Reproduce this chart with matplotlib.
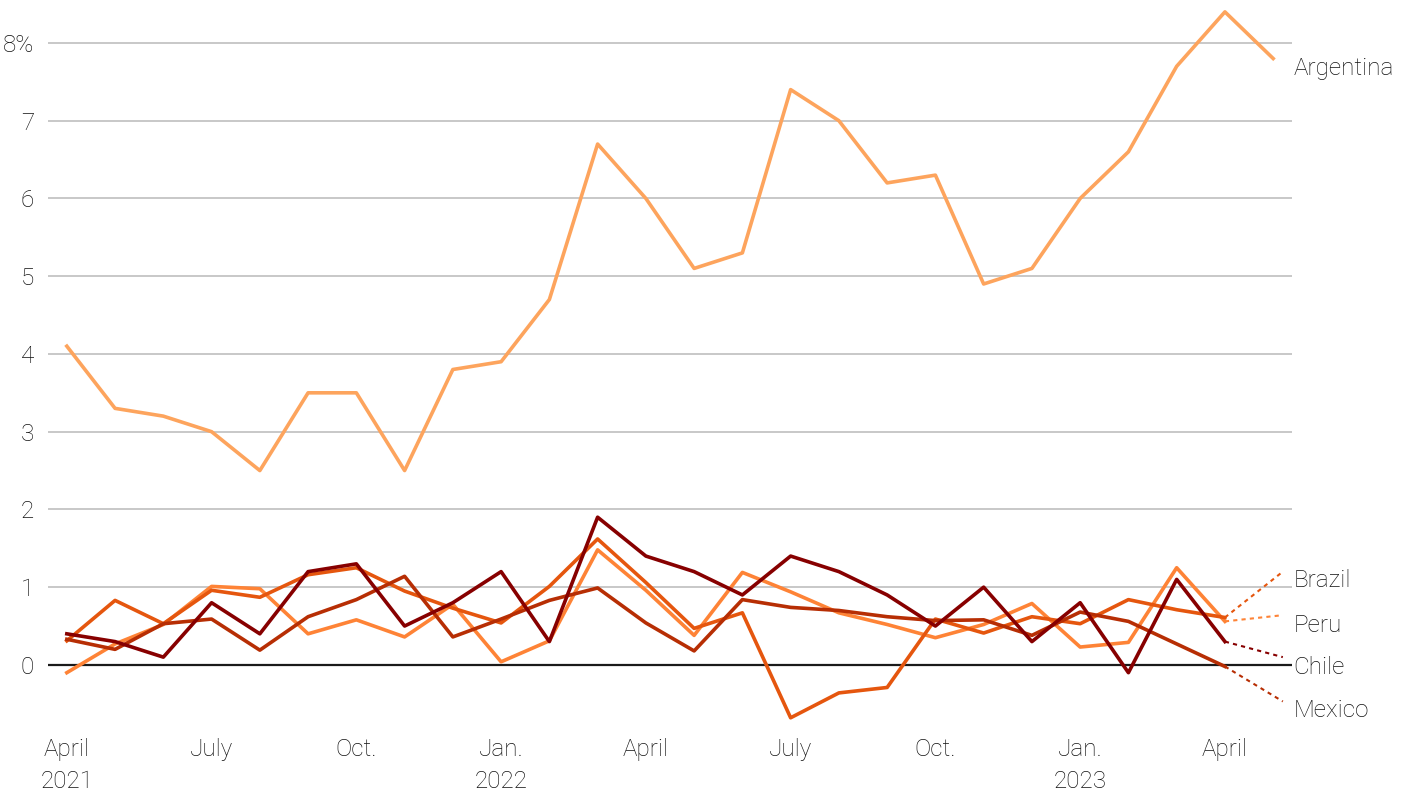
import matplotlib
matplotlib.use("Agg")
import matplotlib.pyplot as plt
import numpy as np

months = ["Apr 2021", "May 2021", "Jun 2021", "Jul 2021", "Aug 2021", "Sep 2021", "Oct 2021",
          "Nov 2021", "Dec 2021", "Jan 2022", "Feb 2022", "Mar 2022", "Apr 2022", "May 2022",
          "Jun 2022", "Jul 2022", "Aug 2022", "Sep 2022", "Oct 2022", "Nov 2022", "Dec 2022",
          "Jan 2023", "Feb 2023", "Mar 2023", "Apr 2023", "May 2023"]

argentina = [4.1, 3.3, 3.2, 3.0, 2.5, 3.5, 3.5, 2.5, 3.8, 3.9, 4.7, 6.7, 6.0, 5.1, 5.3, 7.4,
             7.0, 6.2, 6.3, 4.9, 5.1, 6.0, 6.6, 7.7, 8.4, 7.8]
brazil = [0.31, 0.83, 0.53, 0.96, 0.87, 1.16, 1.25, 0.95, 0.73, 0.54, 1.01, 1.62, 1.06, 0.47,
          0.67, -0.68, -0.36, -0.29, 0.59, 0.41, 0.62, 0.53, 0.84, 0.71, 0.61]
peru = [-0.10, 0.27, 0.52, 1.01, 0.98, 0.40, 0.58, 0.36, 0.78, 0.04, 0.31, 1.48, 0.96, 0.38,
        1.19, 0.94, 0.67, 0.52, 0.35, 0.52, 0.79, 0.23, 0.29, 1.25, 0.56]
chile = [0.4, 0.3, 0.1, 0.8, 0.4, 1.2, 1.3, 0.5, 0.8, 1.2, 0.3, 1.9, 1.4, 1.2, 0.9, 1.4, 1.2,
         0.9, 0.5, 1.0, 0.3, 0.8, -0.1, 1.1, 0.3]
mexico = [0.33, 0.20, 0.53, 0.59, 0.19, 0.62, 0.84, 1.14, 0.36, 0.59, 0.83, 0.99, 0.54, 0.18,
          0.84, 0.74, 0.70, 0.62, 0.57, 0.58, 0.38, 0.68, 0.56, 0.27, -0.02]

tick_idx = [0, 3, 6, 9, 12, 15, 18, 21, 24]
tick_labels = ["April\n2021", "July", "Oct.", "Jan.\n2022", "April", "July", "Oct.",
               "Jan.\n2023", "April"]
y_ticks = [0, 1, 2, 3, 4, 5, 6, 7, 8]
y_labels = ["0", "1", "2", "3", "4", "5", "6", "7", "8%"]

colors = {
    "Argentina": "#fda45d",
    "Peru": "#fe8336",
    "Brazil": "#e5560e",
    "Mexico": "#b72e04",
    "Chile": "#870000",
}

# label positions (value on y axis where the label sits)
label_y = {"Argentina": 7.67, "Brazil": 1.09, "Peru": 0.51, "Chile": -0.03, "Mexico": -0.59}
leader_end = {"Brazil": 1.2, "Peru": 0.64, "Chile": 0.1, "Mexico": -0.47}

plt.rcParams['font.family'] = ['Roboto', 'Lato', 'DejaVu Sans']
W, H = 1420, 800
fig = plt.figure(figsize=(W / 100, H / 100), dpi=100)

left_px, right_px = 48, 1292
top_px, bot_px = 4.1, 731
ax = fig.add_axes([left_px / W, 1 - bot_px / H, (right_px - left_px) / W, (bot_px - top_px) / H])

x0 = np.arange(len(months))
ax.set_xlim(-0.39, 25.39)
ax.set_ylim(-0.85, 8.5)

for s in ax.spines.values():
    s.set_visible(False)

for yv in y_ticks[1:]:
    ax.axhline(yv, color="#c4c4c4", lw=1.3, zorder=1)
ax.axhline(0, color="#1a1a1a", lw=1.6, zorder=2)

lw = 2.6
ax.plot(x0, argentina, color=colors["Argentina"], lw=lw, zorder=3, clip_on=False)
n = len(peru)
ax.plot(x0[:n], peru, color=colors["Peru"], lw=lw, zorder=4, clip_on=False)
ax.plot(x0[:n], brazil, color=colors["Brazil"], lw=lw, zorder=5, clip_on=False)
ax.plot(x0[:n], mexico, color=colors["Mexico"], lw=lw, zorder=6, clip_on=False)
ax.plot(x0[:n], chile, color=colors["Chile"], lw=lw, zorder=7, clip_on=False)

series = {"Brazil": brazil, "Peru": peru, "Chile": chile, "Mexico": mexico}
for name, vals in series.items():
    ax.plot([x0[n - 1], 25.2], [vals[-1], leader_end[name]], color=colors[name], lw=1.5,
            ls=(0, (2, 2)), zorder=6, clip_on=False)

txt_color = "#111111"
fs = 17.5
fw = "light"
for name, yv in label_y.items():
    ax.text(25.42, yv, name, fontsize=fs, color=txt_color, fontweight=fw,
            va="center", ha="left", clip_on=False)

ax.set_xticks(tick_idx)
ax.set_xticklabels(tick_labels, fontsize=fs, color=txt_color, fontweight=fw,
                   linespacing=1.5, va="top")
ax.set_yticks(y_ticks)
ax.set_yticklabels(y_labels, fontsize=fs, color=txt_color, fontweight=fw)
ax.tick_params(axis="x", length=0, pad=5)
ax.tick_params(axis="y", length=0, pad=10)

fig.savefig("out.png", dpi=100)
